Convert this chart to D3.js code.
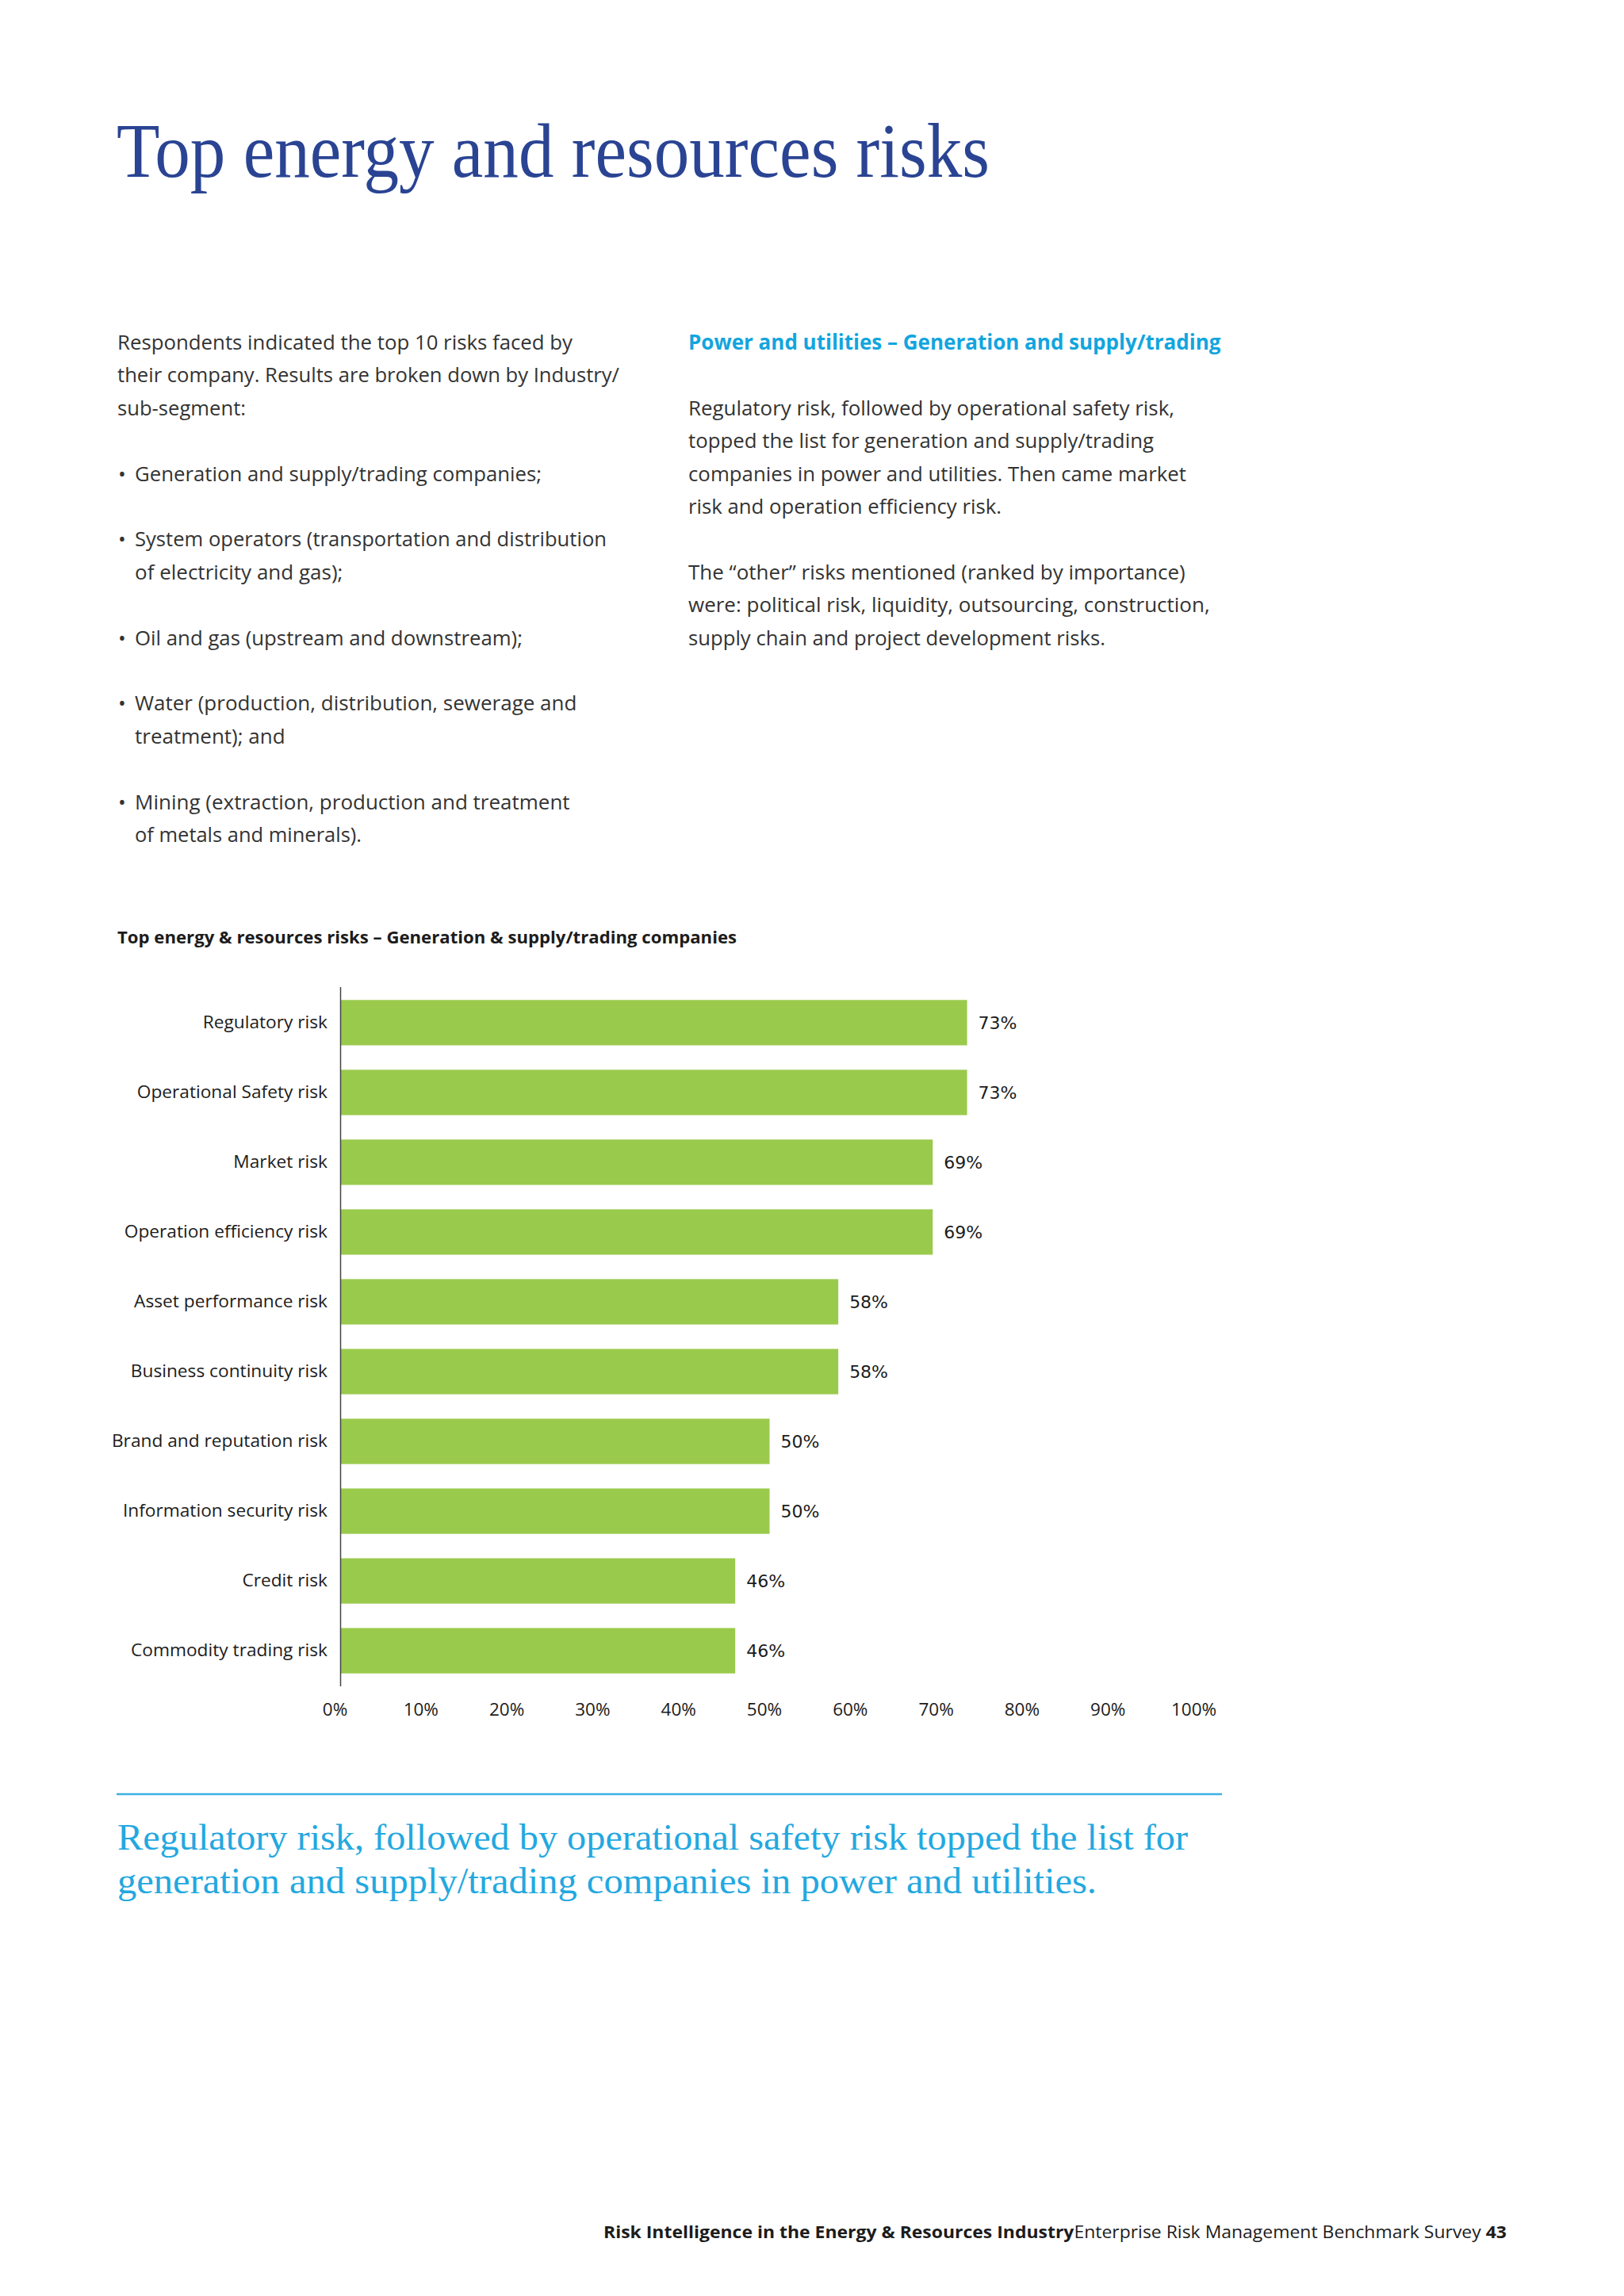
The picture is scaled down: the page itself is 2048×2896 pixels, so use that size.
<!DOCTYPE html>
<html>
<head>
<meta charset="utf-8">
<script src="https://cdn.jsdelivr.net/npm/d3@7"></script>
<style>
  html, body { margin: 0; padding: 0; background: #ffffff; }
  svg { display: block; }
</style>
</head>
<body>
<svg id="page" width="2048" height="2896"></svg>
<script>
// ---------- DATA ----------
const categories = [
  "Regulatory risk",
  "Operational Safety risk",
  "Market risk",
  "Operation efficiency risk",
  "Asset performance risk",
  "Business continuity risk",
  "Brand and reputation risk",
  "Information security risk",
  "Credit risk",
  "Commodity trading risk"
];
const values = [73, 73, 69, 69, 58, 58, 50, 50, 46, 46];
const tickValues = [0, 10, 20, 30, 40, 50, 60, 70, 80, 90, 100];
const tickLabels = ["0%", "10%", "20%", "30%", "40%", "50%", "60%", "70%", "80%", "90%", "100%"];

const pageTitle = "Top energy and resources risks";
const chartTitle = "Top energy & resources risks \u2013 Generation & supply/trading companies";
const leftParagraphs = [
  { bullet: false, lines: ["Respondents indicated the top 10 risks faced by", "their company. Results are broken down by Industry/", "sub-segment:"] },
  { bullet: true, lines: ["Generation and supply/trading companies;"] },
  { bullet: true, lines: ["System operators (transportation and distribution", "of electricity and gas);"] },
  { bullet: true, lines: ["Oil and gas (upstream and downstream);"] },
  { bullet: true, lines: ["Water (production, distribution, sewerage and", "treatment); and"] },
  { bullet: true, lines: ["Mining (extraction, production and treatment", "of metals and minerals)."] }
];
const rightHeading = "Power and utilities \u2013 Generation and supply/trading";
const rightParagraphs = [
  ["Regulatory risk, followed by operational safety risk,", "topped the list for generation and supply/trading", "companies in power and utilities. Then came market", "risk and operation efficiency risk."],
  ["The \u201Cother\u201D risks mentioned (ranked by importance)", "were: political risk, liquidity, outsourcing, construction,", "supply chain and project development risks."]
];
const quoteLines = [
  "Regulatory risk, followed by operational safety risk topped the list for",
  "generation and supply/trading companies in power and utilities."
];
const footerParts = [
  { text: "Risk Intelligence in the Energy & Resources Industry", bold: true },
  { text: "Enterprise Risk Management Benchmark Survey ", bold: false },
  { text: "43", bold: true }
];

// ---------- STYLE / LAYOUT ----------
const W = 2048, H = 2896;
const navy = "#2a4493", cyan = "#12a5de", green = "#9aca4c", ink = "#1c1c1c", body = "#333333";
const serif = "'Liberation Serif', 'DejaVu Serif', serif";
const sans = "'Open Sans', 'Noto Sans', sans-serif";
const leftX = 148, rightX = 868, lineH = 41.4;

const svg = d3.select("#page");
svg.append("rect").attr("width", W).attr("height", H).attr("fill", "#ffffff");

function fit(sel, w) {
  sel.each(function () {
    const len = this.getComputedTextLength();
    if (Math.abs(len - w) > 2) d3.select(this).attr("textLength", w).attr("lengthAdjust", "spacingAndGlyphs");
  });
  return sel;
}

// Page title
svg.append("text").attr("x", 147).attr("y", 223)
  .attr("font-family", serif).attr("font-size", 98).attr("fill", navy)
  .text(pageTitle).call(fit, 1101);

// Left column
const leftWidths = [[574, 633, 162], [513], [595, 264], [489], [559, 188], [550, 286]];
let y = 441;
leftParagraphs.forEach((p, pi) => {
  p.lines.forEach((ln, li) => {
    const x = p.bullet ? 170 : leftX;
    if (p.bullet && li === 0) {
      svg.append("text").attr("x", 149).attr("y", y).attr("font-family", sans).attr("font-size", 26)
        .attr("fill", body).text("\u2022");
    }
    svg.append("text").attr("x", x).attr("y", y)
      .attr("font-family", sans).attr("font-weight", 400).attr("font-size", 26).attr("fill", body)
      .text(ln).call(fit, leftWidths[pi][li]);
    y += lineH;
  });
  y += lineH;
});

// Right column
svg.append("text").attr("x", rightX).attr("y", 441)
  .attr("font-family", sans).attr("font-weight", 700).attr("font-size", 26).attr("fill", cyan)
  .text(rightHeading).call(fit, 670);
const rightWidths = [[613, 587, 628, 395], [626, 659, 526]];
y = 441 + 2 * lineH;
rightParagraphs.forEach((p, pi) => {
  p.forEach((ln, li) => {
    svg.append("text").attr("x", rightX).attr("y", y)
      .attr("font-family", sans).attr("font-weight", 400).attr("font-size", 26).attr("fill", body)
      .text(ln).call(fit, rightWidths[pi][li]);
    y += lineH;
  });
  y += lineH;
});

// ---------- CHART ----------
svg.append("text").attr("x", 148).attr("y", 1190)
  .attr("font-family", sans).attr("font-weight", 700).attr("font-size", 22).attr("fill", ink)
  .text(chartTitle).call(fit, 781);

const x = d3.scaleLinear().domain([0, 100]).range([429, 1512]);
const yb = d3.scaleBand().domain(categories).range([1245, 2127]).paddingInner(0.35).paddingOuter(0.185);

const g = svg.append("g");
g.selectAll("rect.bar").data(values).join("rect").attr("class", "bar")
  .attr("x", x(0)).attr("y", (d, i) => yb(categories[i]))
  .attr("width", d => x(d) - x(0)).attr("height", yb.bandwidth())
  .attr("fill", green);

g.selectAll("text.val").data(values).join("text").attr("class", "val")
  .attr("x", d => x(d) + 14).attr("y", (d, i) => yb(categories[i]) + yb.bandwidth() / 2)
  .attr("dy", "0.36em")
  .attr("font-family", "'DejaVu Sans', sans-serif").attr("font-size", 22).attr("fill", ink)
  .text(d => d + "%");

// y axis (vertical line + category labels)
const yAxis = d3.axisLeft(yb).tickSize(0).tickPadding(16);
const ya = svg.append("g").attr("transform", `translate(${x(0)},0)`).call(yAxis);
ya.select(".domain").attr("d", `M0.5,1245V2127`).attr("stroke", "#444").attr("stroke-width", 1.5);
ya.selectAll("text").attr("font-family", sans).attr("font-size", 22.7).attr("fill", ink);

// x axis (tick labels only)
const xAxis = d3.axisBottom(x).tickValues(tickValues).tickSize(0).tickPadding(0)
  .tickFormat((d, i) => tickLabels[i]);
const xa = svg.append("g").attr("transform", `translate(-7,2148)`).call(xAxis);
xa.select(".domain").remove();
xa.selectAll("text").attr("font-family", sans).attr("font-size", 22.5).attr("fill", ink);

// ---------- QUOTE ----------
svg.append("line").attr("x1", 147).attr("x2", 1541).attr("y1", 2263).attr("y2", 2263)
  .attr("stroke", "#3ab0e2").attr("stroke-width", 2.5);
const quoteWidths = [1350, 1235];
quoteLines.forEach((ln, i) => {
  svg.append("text").attr("x", 148).attr("y", 2333 + i * 55)
    .attr("font-family", serif).attr("font-size", 47).attr("fill", "#23a8e0")
    .text(ln).call(fit, quoteWidths[i]);
});

// ---------- FOOTER ----------
const ft = svg.append("text").attr("x", 1900).attr("y", 2823).attr("text-anchor", "end")
  .attr("font-family", sans).attr("font-size", 22).attr("fill", ink);
ft.selectAll("tspan").data(footerParts).join("tspan")
  .attr("font-weight", d => d.bold ? 700 : 400).text(d => d.text);
ft.call(fit, 1139);
</script>
</body>
</html>
